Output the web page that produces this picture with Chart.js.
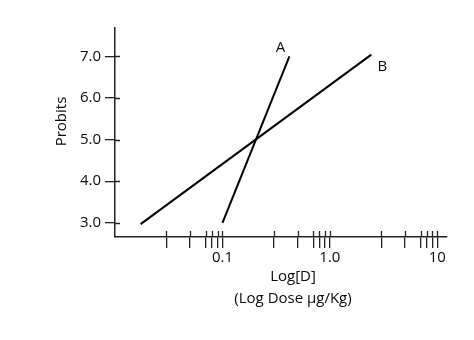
<!DOCTYPE html>
<html>
<head>
<meta charset="utf-8">
<script src="https://cdn.jsdelivr.net/npm/chart.js@4"></script>
<style>
  html, body { margin: 0; padding: 0; background: #fff; }
  #wrap { width: 474px; height: 340px; }
</style>
</head>
<body>
<div id="wrap"><canvas id="c" width="474" height="340"></canvas></div>
<script>
// Dose (µg/Kg) and probit end points of the two regression lines
const doseA = [0.1, 0.42];
const probitA = [3.0, 7.0];
const doseB = [0.0173, 2.43];
const probitB = [2.97, 7.04];
const seriesNames = ['A', 'B'];

// Axis ticks
const doseTicks = [0.03, 0.05, 0.07, 0.08, 0.09, 0.1,
                   0.3, 0.5, 0.7, 0.8, 0.9, 1.0,
                   3, 5, 7, 8, 9, 10];
const doseTickLabels = { 0.1: '0.1', 1: '1.0', 10: '10' };
const probitTicks = [3, 4, 5, 6, 7];
const xTitle = ['Log[D]', '(Log Dose µg/Kg)'];
const yTitle = 'Probits';

const FONT = "'Open Sans', 'Noto Sans', sans-serif";
const INK = '#222';
const TEXT = '#0a0a0a';

function toPoints(xs, ys) { return xs.map((x, i) => ({ x: x, y: ys[i] })); }

// Short tick stubs on the inner side of each axis, series letters and axis titles
const axisDecor = {
  id: 'axisDecor',
  afterDatasetsDraw(chart) {
    const { ctx, chartArea, scales } = chart;
    ctx.save();
    ctx.strokeStyle = INK;
    ctx.lineWidth = 1.3;
    ctx.beginPath();
    doseTicks.forEach(v => {
      const px = Math.round(scales.x.getPixelForValue(v)) + 0.5;
      ctx.moveTo(px, chartArea.bottom);
      ctx.lineTo(px, chartArea.bottom - 6);
    });
    probitTicks.forEach(v => {
      const py = Math.round(scales.y.getPixelForValue(v)) + 0.5;
      ctx.moveTo(chartArea.left, py);
      ctx.lineTo(chartArea.left + 5, py);
    });
    ctx.stroke();

    ctx.fillStyle = TEXT;
    ctx.font = '15px ' + FONT;
    ctx.textAlign = 'center';
    ctx.textBaseline = 'middle';
    const offsets = [[-9, -9], [11, 12]];
    chart.data.datasets.forEach((ds, i) => {
      const meta = chart.getDatasetMeta(i);
      const last = meta.data[meta.data.length - 1];
      ctx.fillText(seriesNames[i], last.x + offsets[i][0], last.y + offsets[i][1]);
    });

    // two-line x axis title
    const cx = (chartArea.left + chartArea.right) / 2 + 12;
    ctx.fillText(xTitle[0], cx, chartArea.bottom + 40);
    ctx.fillText(xTitle[1], cx, chartArea.bottom + 62);

    // rotated y axis title
    ctx.translate(chartArea.left - 53, (chartArea.top + chartArea.bottom) / 2 - 11);
    ctx.rotate(-Math.PI / 2);
    ctx.fillText(yTitle, 0, 0);
    ctx.restore();
  }
};

new Chart(document.getElementById('c'), {
  type: 'line',
  data: {
    datasets: [
      { label: seriesNames[0], data: toPoints(doseA, probitA) },
      { label: seriesNames[1], data: toPoints(doseB, probitB) }
    ].map(d => Object.assign(d, {
      borderColor: '#000', borderWidth: 2, pointRadius: 0,
      fill: false, tension: 0
    }))
  },
  options: {
    responsive: false,
    animation: false,
    events: [],
    layout: { padding: { left: 47, right: 27, top: 28, bottom: 0 } },
    plugins: { legend: { display: false }, tooltip: { enabled: false } },
    scales: {
      x: {
        type: 'logarithmic',
        min: 0.01,
        max: 12.3,
        afterBuildTicks(scale) { scale.ticks = doseTicks.map(v => ({ value: v })); },
        afterFit(scale) { scale.height = 103; },
        border: { display: true, color: INK, width: 1.5 },
        grid: { drawOnChartArea: false, drawTicks: true, tickLength: 11, color: INK, lineWidth: 1.3 },
        ticks: {
          autoSkip: false, maxRotation: 0, padding: 1,
          color: TEXT, font: { family: FONT, size: 15 },
          callback: (v) => doseTickLabels[v] || ''
        },
        title: { display: false }
      },
      y: {
        type: 'linear',
        min: 2.66,
        max: 7.68,
        afterBuildTicks(scale) { scale.ticks = probitTicks.map(v => ({ value: v })); },
        afterFit(scale) { scale.width = 68; },
        border: { display: true, color: INK, width: 1.5 },
        grid: { drawOnChartArea: false, drawTicks: true, tickLength: 10, color: INK, lineWidth: 1.3 },
        ticks: {
          padding: 4, color: TEXT, font: { family: FONT, size: 15 },
          callback: (v) => v.toFixed(1)
        },
        title: { display: false }
      }
    }
  },
  plugins: [axisDecor]
});
</script>
</body>
</html>
